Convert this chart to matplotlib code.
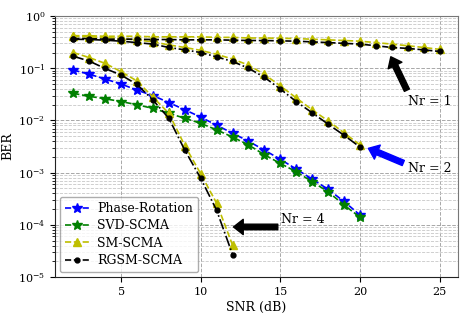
import numpy as np
import matplotlib
matplotlib.use("Agg")
import matplotlib.pyplot as plt

plt.rcParams.update({'font.family': 'serif', 'font.serif': ['DejaVu Serif'],
                     'mathtext.fontset': 'dejavuserif', 'font.size': 9,
                     'xtick.labelsize': 8, 'ytick.labelsize': 8})

# ---- data ----
snr_nr1 = np.arange(2, 26)
snr_nr2 = np.arange(2, 21)
snr_nr4 = np.arange(2, 13)

phase_rot = [0.092, 0.077, 0.062, 0.050, 0.038, 0.030, 0.022, 0.016, 0.0116, 0.0081,
             0.0057, 0.0040, 0.0027, 0.0018, 0.00117, 7.5e-4, 4.8e-4, 2.8e-4, 1.55e-4]
svd_scma = [0.033, 0.029, 0.026, 0.023, 0.020, 0.017, 0.0137, 0.011, 0.0088, 0.0066,
            0.0048, 0.0034, 0.0022, 0.0015, 0.00104, 6.7e-4, 4.3e-4, 2.4e-4, 1.4e-4]

sm_nr1 = [0.42, 0.42, 0.41, 0.41, 0.41, 0.40, 0.40, 0.40, 0.40, 0.39, 0.39, 0.38,
          0.38, 0.375, 0.37, 0.36, 0.35, 0.34, 0.33, 0.31, 0.29, 0.27, 0.25, 0.23]
rgsm_nr1 = [0.37, 0.37, 0.36, 0.36, 0.36, 0.355, 0.355, 0.35, 0.35, 0.35, 0.345, 0.34,
            0.34, 0.335, 0.33, 0.32, 0.31, 0.30, 0.29, 0.27, 0.25, 0.24, 0.225, 0.21]
sm_nr2 = [0.41, 0.40, 0.39, 0.37, 0.35, 0.32, 0.28, 0.25, 0.22, 0.185, 0.15, 0.115,
          0.076, 0.046, 0.027, 0.016, 0.0098, 0.0058, 0.0034]
rgsm_nr2 = [0.36, 0.355, 0.345, 0.33, 0.31, 0.29, 0.25, 0.225, 0.20, 0.165, 0.135, 0.10,
            0.067, 0.040, 0.023, 0.014, 0.0085, 0.0052, 0.0031]
sm_nr4 = [0.20, 0.16, 0.124, 0.086, 0.057, 0.028, 0.0137, 0.0033, 9.5e-4, 2.6e-4, 4.1e-5]
rgsm_nr4 = [0.17, 0.137, 0.099, 0.074, 0.049, 0.0246, 0.011, 0.0027, 7.8e-4, 1.9e-4, 2.7e-5]

fig = plt.figure(figsize=(4.74, 3.21), dpi=100)
ax = fig.add_axes([0.116, 0.137, 0.85, 0.813])

ax.semilogy(snr_nr2, phase_rot, 'b--', marker='*', ms=7, lw=1.2, label='Phase-Rotation')
ax.semilogy(snr_nr2, svd_scma, 'g--', marker='*', ms=7, lw=1.2, label='SVD-SCMA')
ax.semilogy(snr_nr1, sm_nr1, 'y--', marker='^', ms=5.5, lw=1.2, label='SM-SCMA')
ax.semilogy(snr_nr2, sm_nr2, 'y--', marker='^', ms=5.5, lw=1.2)
ax.semilogy(snr_nr4, sm_nr4, 'y--', marker='^', ms=5.5, lw=1.2)
ax.semilogy(snr_nr1, rgsm_nr1, 'k--', marker='.', ms=7, lw=1.2, label='RGSM-SCMA')
ax.semilogy(snr_nr2, rgsm_nr2, 'k-.', marker='.', ms=7, lw=1.2)
ax.semilogy(snr_nr4, rgsm_nr4, 'k-.', marker='.', ms=7, lw=1.2)

ax.set_ylim(1e-5, 1)
ax.grid(True, which='major', linestyle='--', color='#a8a8a8', lw=0.7)
ax.grid(True, which='minor', linestyle='--', color='#c8c8c8', lw=0.6)
ax.set_xticks([5, 10, 15, 20, 25])
ax.set_xlabel('SNR (dB)', labelpad=3)
ax.set_ylabel('BER', labelpad=3)
for s in ['left', 'bottom']:
    ax.spines[s].set_color('#222222')
for s in ['top', 'right']:
    ax.spines[s].set_color('#777777')

arrow = dict(facecolor='black', edgecolor='black', width=4, headwidth=11, headlength=7, shrink=0)
ax.annotate('', xy=(21.94, 0.166), xytext=(22.95, 0.038), arrowprops=arrow)
ax.text(23.03, 0.0235, 'Nr = 1', ha='left', va='center')
ax.annotate('', xy=(20.53, 2.92e-3), xytext=(22.72, 1.53e-3),
            arrowprops=dict(arrow, facecolor='blue', edgecolor='blue'))
ax.text(23.03, 1.22e-3, 'Nr = 2', ha='left', va='center')
ax.annotate('', xy=(12.06, 9.1e-5), xytext=(14.84, 9.1e-5), arrowprops=arrow)
ax.text(15.03, 1.24e-4, 'Nr = 4', ha='left', va='center')

leg = ax.legend(loc='lower left', fancybox=True, edgecolor='#999999', fontsize=9,
                borderaxespad=0.4, labelspacing=0.35, handletextpad=0.6)

fig.savefig('out.png', dpi=100)
